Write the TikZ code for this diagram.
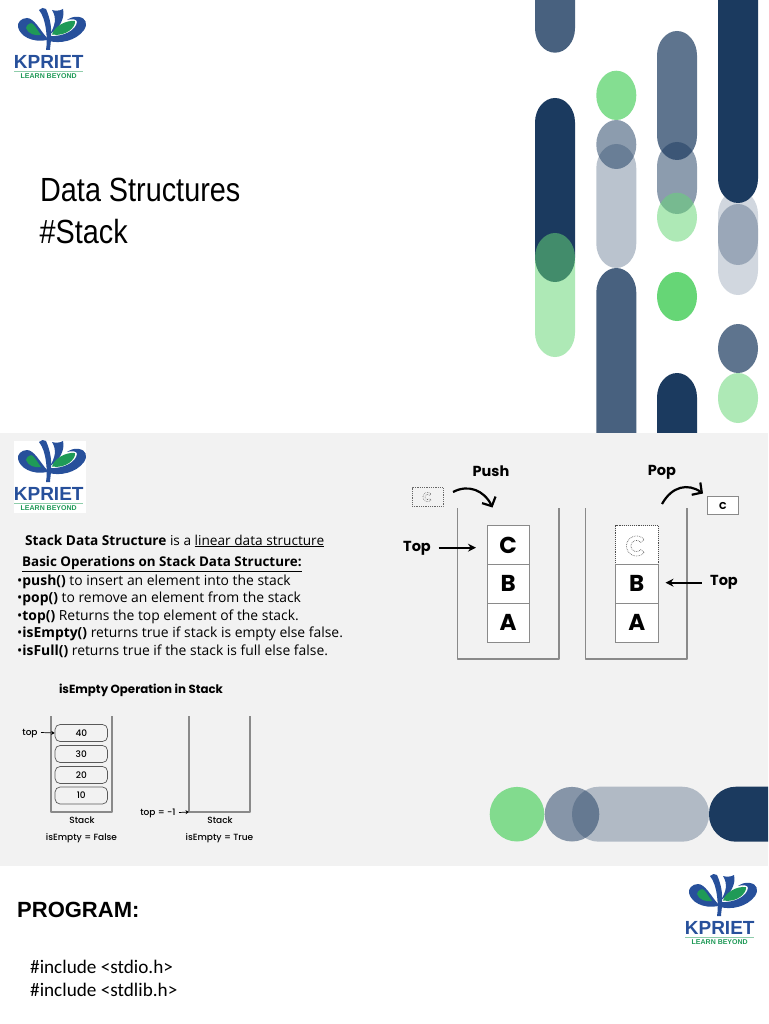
\documentclass[tikz,border=0pt]{standalone}
\usepackage{fontspec}
\setmainfont{Carlito}
\newfontfamily\pop{Poppins}
\newfontfamily\popm{Poppins Medium}
\newfontfamily\arial{Liberation Sans}
\newfontfamily\opn{Open Sans}
\usetikzlibrary{arrows.meta}
\definecolor{navy}{HTML}{1B3A5F}
\definecolor{lgreen}{HTML}{66D676}
\definecolor{panel}{HTML}{F2F2F2}
\definecolor{logoblue}{HTML}{27509B}
\definecolor{logogreen}{HTML}{1F9A57}
\definecolor{boxline}{HTML}{8A8A8A}
% pill: x, top, bottom, colour, opacity
\newcommand\pill[5]{%
  \fill[#4,fill opacity=#5] ({#1-20},{#3-24.5}) -- ({#1-20},{#2+24.5})
   .. controls ({#1-20},{#2+11}) and ({#1-11},{#2}) .. ({#1},{#2})
   .. controls ({#1+11},{#2}) and ({#1+20},{#2+11}) .. ({#1+20},{#2+24.5})
   -- ({#1+20},{#3-24.5})
   .. controls ({#1+20},{#3-11}) and ({#1+11},{#3}) .. ({#1},{#3})
   .. controls ({#1-11},{#3}) and ({#1-20},{#3-11}) .. ({#1-20},{#3-24.5}) -- cycle;}
% hollow dotted letter C: x, y, outer r, width of line
\newcommand\dottedC[4]{%
  \draw[black!60,densely dotted,line width=#4pt]
    plot[domain=40:320,samples=30] ({#1+#3*cos(\x)},{#2+#3*sin(\x)})
    -- plot[domain=320:40,samples=30] ({#1+#3*.55*cos(\x)},{#2+#3*.55*sin(\x)}) -- cycle;}
% logo: x, y (drawn in 100x90 design units)
\newcommand\logo[3]{%
 \begin{scope}[shift={(#1,#2)}]
  \fill[logoblue] (47,38) .. controls (40,30) and (34,18) .. (27,18)
     .. controls (21,18) and (17,23) .. (18,27)
     .. controls (20,36) and (32,43) .. (47,40) -- cycle;
  \fill[logogreen] (26,28) .. controls (27,24) and (31,22) .. (33,24)
     .. controls (36,27) and (38,31) .. (41,35)
     .. controls (35,36) and (28,34) .. (26,28) -- cycle;
  \fill[logoblue] (39,10) .. controls (41,8) and (44,7) .. (46,9)
     .. controls (50,18) and (52,28) .. (51,38)
     .. controls (51,43) and (50,47) .. (50,50) -- (46,50)
     .. controls (47,44) and (47,38) .. (46,30)
     .. controls (45,22) and (43,15) .. (39,10) -- cycle;
  \fill[logoblue] (52,10) .. controls (55,11) and (60,11) .. (63,9)
     .. controls (65,18) and (60,28) .. (50,34)
     .. controls (55,26) and (57,18) .. (52,10) -- cycle;
  \fill[logoblue] (49,36) -- (49,41) .. controls (60,44) and (76,41) .. (84,30)
     .. controls (88,24) and (86,18) .. (79,17)
     .. controls (74,16) and (70,18) .. (67,20)
     .. controls (72,18.5) and (77,19) .. (77,22)
     .. controls (76,30) and (64,37) .. (49,36) -- cycle;
  \fill[logogreen] (52,34.5) .. controls (54,27) and (65,20) .. (75,21)
     .. controls (76,27) and (66,37) .. (52,34.5) -- cycle;
  \node[font=\arial\bfseries\fontsize{19}{19}\selectfont,text=logoblue,inner sep=0] (k#3) at (48.7,61.5) {KPRIET};
  \fill[logogreen!50] (14,71.3) rectangle (83,72);
  \node[font=\arial\bfseries\fontsize{7}{7}\selectfont,text=logogreen,inner sep=0] (l#3) at (48.7,76) {LEARN BEYOND};
 \end{scope}}
\tikzset{
  wall/.style={draw=boxline,line width=1.1pt,line join=round},
  cell/.style={draw=boxline,fill=white,line width=.9pt,minimum width=42.5pt,minimum height=38.6pt,inner sep=0,font=\pop\fontsize{23}{23}\selectfont\bfseries},
  lbl/.style={font=\pop\fontsize{14.5}{14.5}\selectfont\bfseries,inner sep=0},
  arr/.style={-{Stealth[length=8pt,width=8pt]},line width=1.6pt},
  bigarr/.style={-{Straight Barb[length=7pt,width=15pt,line width=2.2pt]},line width=2.2pt},
  sarr/.style={-{Stealth[length=3.5pt,width=4pt]},line width=.7pt},
  slab/.style={draw=black!65,fill=none,rounded corners=5pt,line width=.7pt,minimum width=52.5pt,minimum height=17pt,inner sep=0,font=\popm\fontsize{9}{9}\selectfont},
  small/.style={font=\popm\fontsize{9}{9}\selectfont,inner sep=0},
  body/.style={anchor=west,inner sep=0,font=\opn\fontsize{13.9}{13.9}\selectfont},
  titl/.style={anchor=west,inner sep=0,xscale=.86,transform shape,font=\arial\fontsize{33.5}{33.5}\selectfont},
}
\begin{document}
\begin{tikzpicture}[x=1pt,y=-1pt]
\useasboundingbox (0,0) rectangle (768,1024);
\fill[white] (0,0) rectangle (768,1024);
% decorative pills
\begin{scope}
\clip (0,0) rectangle (768,433);
\pill{555}{-30}{52.7}{navy}{.8}
\pill{555}{98}{282}{navy}{1}
\pill{555}{233}{357}{lgreen}{.53}
\pill{616.3}{70.7}{120}{lgreen}{.8}
\pill{616.3}{120}{169}{navy}{.5}
\pill{616.3}{144}{268}{navy}{.3}
\pill{616.3}{268}{480}{navy}{.8}
\pill{677}{31}{160}{navy}{.7}
\pill{677}{142}{214}{navy}{.5}
\pill{677}{192.7}{241.7}{lgreen}{.53}
\pill{677}{272}{321}{lgreen}{1}
\pill{677}{373}{480}{navy}{1}
\pill{738}{-30}{203}{navy}{1}
\pill{738}{190}{295}{navy}{.2}
\pill{738}{204}{265}{navy}{.3}
\pill{738}{324}{373}{navy}{.7}
\pill{738}{373}{423}{lgreen}{.53}
\end{scope}
% title
\logo{0}{0}{a}
\node[titl] (title1) at (40,189.5) {Data Structures};
\node[titl] (title2) at (39.5,232) {\#Stack};
% panel
\fill[panel] (0,433) rectangle (768,866);
\fill[white] (14,441) rectangle (86,513);
\logo{0}{432}{b}
\node[body,font=\opn\fontsize{13.65}{13.65}\selectfont] (t1) at (25,541) {\textbf{Stack Data Structure} is a \underline{linear data structure}};
\node[body,font=\opn\fontsize{13.4}{13.4}\selectfont] (t2) at (22,564.5) {\underline{\textbf{Basic Operations on Stack Data Structure:}}};
\node[body] (t3) at (17,581.5) {•\textbf{push()} to insert an element into the stack};
\node[body] (t4) at (17,599) {•\textbf{pop()} to remove an element from the stack};
\node[body] (t5) at (17,616.5) {•\textbf{top()} Returns the top element of the stack.};
\node[body] (t6) at (17,634) {•\textbf{isEmpty()} returns true if stack is empty else false.};
\node[body] (t7) at (17,651.5) {•\textbf{isFull()} returns true if the stack is full else false.};
% push stack
\draw[wall] (457.5,508) -- (457.5,659) -- (559,659) -- (559,508);
\node[cell] (c1) at (508.2,545.2) {C};
\node[cell] (b1) at (508.2,583.7) {B};
\node[cell] (a1) at (508.2,622.7) {A};
\node[lbl] (push) at (491,471) {Push};
\node[draw=black!60,densely dotted,line width=.8pt,fill=panel,minimum width=31pt,minimum height=19pt,inner sep=0] (cg) at (427.5,497) {};
\dottedC{427.5}{497}{4.5}{.6}
\coordinate (pa) at (453,492);
\coordinate (pb) at (492.5,507.5);
\draw[bigarr] (pa) .. controls (468,484) and (484,490) .. (pb);
\node[lbl] (top1) at (417,548) {Top};
\coordinate (ta) at (438.5,547.7);
\coordinate (tc) at (476,547.7);
\draw[arr] (ta) -- (tc);
% pop stack
\draw[wall] (585.5,508) -- (585.5,659) -- (687,659) -- (687,508);
\node[cell,draw=black!70,densely dotted] (c2) at (636.8,545.2) {};
\dottedC{636.5}{546}{10}{.7}
\node[cell] (b2) at (636.8,583.7) {B};
\node[cell] (a2) at (636.8,622.7) {A};
\node[lbl] (popl) at (662,472.5) {Pop};
\node[draw=boxline,fill=white,line width=.9pt,minimum width=31pt,minimum height=18pt,inner sep=0,font=\pop\fontsize{10}{10}\selectfont\bfseries] (c3) at (723,505.5) {C};
\coordinate (qa) at (662,504);
\coordinate (qb) at (703,493.5);
\draw[bigarr] (qa) .. controls (672,486) and (688,483) .. (qb);
\node[lbl] (top2) at (724,582) {Top};
\coordinate (tb) at (701.5,582.7);
\coordinate (td) at (665.5,582.7);
\draw[arr] (tb) -- (td);
% isEmpty
\node[font=\pop\fontsize{11.8}{11.8}\selectfont\bfseries,inner sep=0] (ie) at (141,690) {isEmpty Operation in Stack};
\draw[wall] (51,716) -- (51,812) -- (112,812) -- (112,716);
\node[slab] (s40) at (81.3,733) {40};
\node[slab] (s30) at (81.3,754) {30};
\node[slab] (s20) at (81.3,775) {20};
\node[slab] (s10) at (81.3,795.5) {10};
\node[small] (tp) at (30,733.5) {top};
\coordinate (tpa) at (41,732.5);
\draw[sarr] (tpa) -- (s40.west);
\node[small] (st1) at (82,820) {Stack};
\node[small] (f1) at (81.5,838.5) {isEmpty = False};
\draw[wall] (189,716) -- (189,812) -- (250,812) -- (250,716);
\coordinate (w2) at (189,812);
\node[small] (tp2) at (158,813) {top = -1};
\coordinate (tpb) at (179,812.5);
\draw[sarr] (tpb) -- (w2);
\node[small] (st2) at (220,820) {Stack};
\node[small] (f2) at (219.5,838.5) {isEmpty = True};
% bottom-right shapes
\fill[lgreen,fill opacity=.8] (517,814.2) circle [radius=27.3];
\fill[navy,fill opacity=.5] (572,814.2) circle [radius=27.3];
\fill[navy,fill opacity=.3,rounded corners=27pt] (572,786.7) rectangle (709,841.7);
\begin{scope}
\clip (700,780) rectangle (768,850);
\fill[navy,rounded corners=27pt] (709,786.7) rectangle (830,841.7);
\end{scope}
% lower slide
\node[anchor=west,inner sep=0,font=\arial\bfseries\fontsize{22}{22}\selectfont] (prog) at (17,909.5) {PROGRAM:};
\logo{671}{866}{c}
\node[anchor=west,inner sep=0,font=\fontsize{19.2}{19.2}\selectfont] (i1) at (30,967) {\#include <stdio.h>};
\node[anchor=west,inner sep=0,font=\fontsize{19.2}{19.2}\selectfont] (i2) at (30,989.5) {\#include <stdlib.h>};
\end{tikzpicture}
\end{document}
